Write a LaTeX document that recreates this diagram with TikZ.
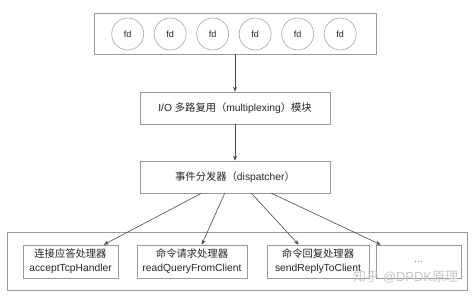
\documentclass[tikz,border=0pt]{standalone}
\usepackage{fontspec}
\setmainfont{Liberation Sans}
\newfontfamily\cjk{Noto Sans CJK SC}
\usetikzlibrary{arrows.meta}
\begin{document}
\begin{tikzpicture}[x=1pt,y=-1pt,
  boxline/.style={draw=black!40, line width=0.6pt},
  bx/.style={boxline, rectangle, inner sep=0pt, text=black!85, font=\fontsize{10.3}{14}\selectfont, align=center},
  fdc/.style={draw=black!35, line width=0.6pt, circle, minimum size=32pt, inner sep=0pt, text=black!85, font=\fontsize{9}{10}\selectfont},
  arr/.style={draw=black!70, line width=0.6pt, -{Stealth[length=5pt,width=4pt]}}
]
\useasboundingbox (0,0) rectangle (474,299);
\fill[white] (0,0) rectangle (474,299);
% top box
\node[bx, minimum width=282pt, minimum height=41pt] (top) at (235,33.5) {};
\foreach \i in {0,...,5} {
  \node[fdc] (fd\i) at (127.7+42.5*\i,34) {fd};
}
\node[bx, minimum width=190pt, minimum height=32pt] (io) at (235,108) {I/O {\cjk 多路复用（}multiplexing{\cjk ）模块}};
\node[bx, minimum width=190pt, minimum height=32pt] (disp) at (235,177) {{\cjk 事件分发器（}dispatcher{\cjk ）}};
% bottom container
\node[bx, minimum width=460pt, minimum height=58pt] (outer) at (237,261) {};
\node[bx, minimum width=95pt, minimum height=33pt] (b1) at (70.5,261.5) {{\cjk 连接应答处理器}\\acceptTcpHandler};
\node[bx, minimum width=110pt, minimum height=33pt] (b2) at (192,261.5) {{\cjk 命令请求处理器}\\readQueryFromClient};
\node[bx, minimum width=102pt, minimum height=33pt] (b3) at (318,261.5) {{\cjk 命令回复处理器}\\sendReplyToClient};
\node[bx, minimum width=85pt, minimum height=33pt, text=black!45] (b4) at (418.5,261.5) {...};
% watermark
\node[text=black!22, font=\fontsize{13}{14}\selectfont, anchor=west, inner sep=0pt] (wm) at (353,277) {{\cjk 知乎} @DPDK{\cjk 原理}};
% arrows
\draw[arr] (top.south) -- (io.north);
\draw[arr] (io.south) -- (disp.north);
\draw[arr] ([xshift=61.7pt]disp.south west) -- ([xshift=81pt]b1.north west);
\draw[arr] ([xshift=85pt]disp.south west) -- ([xshift=65pt]b2.north west);
\draw[arr] ([xshift=111.7pt]disp.south west) -- ([xshift=32pt]b3.north west);
\draw[arr] ([xshift=131.7pt]disp.south west) -- ([xshift=5pt]b4.north west);
\end{tikzpicture}
\end{document}
